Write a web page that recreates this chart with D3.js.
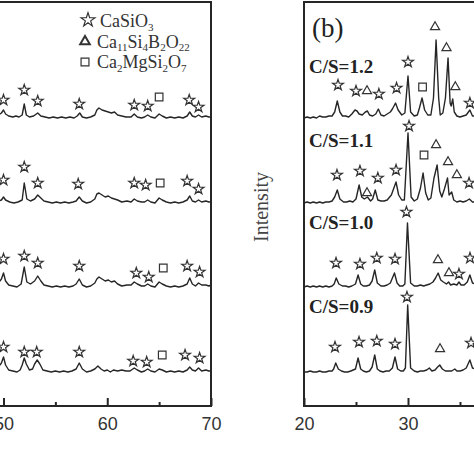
<!DOCTYPE html>
<html>
<head>
<meta charset="utf-8">
<script src="https://cdn.jsdelivr.net/npm/d3@7"></script>
<style>
body { margin: 0; background: #fff; }
svg { display: block; }
</style>
</head>
<body>
<div id="chart"></div>
<script>
// two XRD panels, (a) is cut on the left, (b) is cut on the right
var ratios = ["C/S=1.2", "C/S=1.1", "C/S=1.0", "C/S=0.9"];
var offsets = [288, 203, 119, 34];
var ratioLevels = [333, 259, 177, 93];

var ticksMajorA = [50, 60, 70];
var ticksMinorA = [45, 55, 65];
var ticksMajorB = [20, 30];
var ticksMinorB = [25, 35];

// panel (a) traces, [2theta, intensity above baseline]
var traceA12 = [[49.5,3],[49.8,5],[50.0,8],[50.2,4],[50.5,2],[50.9,1],[51.2,2],[51.5,1],[51.8,3],[52.0,14],[52.2,3],[52.5,1],[52.9,2],[53.3,5],[53.6,2],[54.0,1],[54.4,0],[54.8,1],[55.2,0],[55.6,1],[56.0,0],[56.4,1],[56.8,0],[57.1,2],[57.35,5],[57.6,1],[58.0,0],[58.4,1],[58.8,3],[59.0,8],[59.2,10],[59.5,8],[59.8,7],[60.1,6],[60.4,5],[60.7,6],[61.0,3],[61.4,2],[61.8,1],[62.3,1],[62.6,4],[62.9,1],[63.3,0],[63.6,1],[63.9,3],[64.2,1],[64.6,0],[65.0,4],[65.3,2],[65.7,0],[66.1,1],[66.5,0],[66.9,1],[67.3,0],[67.7,2],[67.95,6],[68.2,2],[68.5,1],[68.8,3],[69.1,1],[69.5,2],[69.8,1],[70,1]];
var traceA11 = [[49.5,2],[49.8,3],[50.0,6],[50.2,3],[50.6,1],[51.0,0],[51.4,1],[51.8,3],[52.0,20],[52.25,4],[52.6,2],[53.0,4],[53.3,8],[53.6,5],[53.9,2],[54.3,1],[54.7,0],[55.1,1],[55.5,0],[55.9,1],[56.3,0],[56.7,1],[57.0,2],[57.3,6],[57.6,2],[58.0,0],[58.4,1],[58.8,4],[59.0,9],[59.2,10],[59.5,8],[59.8,6],[60.1,7],[60.4,5],[60.7,4],[61.0,3],[61.4,1],[61.9,2],[62.3,1],[62.6,4],[62.9,2],[63.3,1],[63.6,1],[63.9,3],[64.2,1],[64.6,0],[65.0,5],[65.3,3],[65.7,1],[66.1,0],[66.5,1],[66.9,0],[67.3,1],[67.7,3],[67.95,7],[68.2,2],[68.5,1],[68.8,3],[69.1,1],[69.5,2],[69.8,1],[70,1]];
var traceA10 = [[49.5,4],[49.8,8],[50.0,14],[50.2,6],[50.5,2],[50.9,1],[51.3,0],[51.7,3],[52.0,20],[52.25,5],[52.6,3],[53.0,6],[53.3,11],[53.6,6],[53.9,2],[54.3,1],[54.7,0],[55.1,1],[55.5,0],[55.9,1],[56.3,0],[56.7,1],[57.0,3],[57.3,8],[57.6,2],[58.0,0],[58.4,1],[58.8,4],[59.0,8],[59.2,10],[59.5,8],[59.8,6],[60.1,7],[60.4,5],[60.7,6],[61.0,3],[61.4,1],[61.9,2],[62.3,2],[62.6,5],[62.9,3],[63.3,1],[63.6,1],[63.9,3],[64.2,1],[64.6,0],[65.0,5],[65.3,3],[65.7,1],[66.1,0],[66.5,1],[66.9,0],[67.3,1],[67.7,3],[67.95,9],[68.2,3],[68.5,1],[68.8,4],[69.1,2],[69.5,2],[69.8,1],[70,2]];
var traceA09 = [[49.5,5],[49.8,9],[50.0,15],[50.2,7],[50.5,2],[50.9,1],[51.3,0],[51.6,2],[51.8,7],[52.0,14],[52.2,8],[52.5,2],[52.8,3],[53.0,8],[53.25,12],[53.5,8],[53.8,2],[54.2,1],[54.6,0],[55.0,1],[55.4,0],[55.8,1],[56.2,0],[56.6,1],[57.0,3],[57.3,9],[57.6,3],[58.0,0],[58.4,1],[58.8,3],[59.1,6],[59.4,3],[59.7,1],[60.0,2],[60.3,0],[60.6,2],[61.0,1],[61.4,2],[61.8,1],[62.2,1],[62.6,4],[62.9,2],[63.3,0],[63.6,1],[63.9,3],[64.2,1],[64.6,0],[65.0,3],[65.3,2],[65.7,0],[66.1,1],[66.5,0],[66.9,1],[67.3,0],[67.7,2],[67.95,5],[68.2,2],[68.5,1],[68.8,4],[69.1,1],[69.5,2],[69.8,1],[70,1]];

// panel (b) traces
var traceB12 = [[20,0],[20.3,1],[20.6,0],[20.9,1],[21.2,0],[21.5,2],[21.8,1],[22.1,1],[22.4,2],[22.7,2],[22.95,6],[23.2,17],[23.45,6],[23.7,2],[24.0,2],[24.3,1],[24.6,4],[24.9,8],[25.1,7],[25.3,4],[25.6,3],[25.9,6],[26.1,7],[26.3,3],[26.6,2],[26.9,4],[27.15,9],[27.4,3],[27.7,2],[28.0,4],[28.3,6],[28.5,9],[28.8,15],[29.05,8],[29.4,3],[29.7,5],[30.0,42],[30.25,6],[30.6,2],[30.9,3],[31.1,10],[31.35,20],[31.6,8],[31.9,3],[32.2,3],[32.45,20],[32.7,78],[32.95,20],[33.1,3],[33.35,5],[33.6,20],[33.85,60],[34.05,15],[34.15,12],[34.3,19],[34.45,6],[34.7,2],[35.0,1],[35.3,2],[35.6,3],[35.95,8],[36.2,2],[36.5,2]];
var traceB11 = [[20,0],[20.3,1],[20.6,0],[20.9,1],[21.2,0],[21.5,1],[21.8,0],[22.1,1],[22.4,1],[22.7,2],[22.95,6],[23.2,13],[23.45,4],[23.8,1],[24.1,1],[24.4,2],[24.7,1],[25.0,4],[25.3,18],[25.55,6],[25.8,4],[26.1,6],[26.4,2],[26.6,4],[26.85,13],[27.1,3],[27.4,2],[27.7,2],[28.0,3],[28.4,8],[28.85,21],[29.1,8],[29.4,3],[29.65,3],[30.0,70],[30.3,6],[30.6,2],[30.9,4],[31.2,15],[31.45,30],[31.7,10],[31.95,3],[32.2,5],[32.5,25],[32.8,38],[33.05,12],[33.25,6],[33.5,14],[33.8,25],[33.95,8],[34.2,11],[34.4,3],[34.7,1],[35.0,2],[35.3,1],[35.6,2],[35.9,4],[36.2,1],[36.5,1]];
var traceB10 = [[20,0],[20.3,1],[20.6,0],[20.9,1],[21.2,0],[21.5,1],[21.8,0],[22.1,1],[22.4,0],[22.7,1],[22.9,3],[23.1,9],[23.35,3],[23.7,1],[24.0,1],[24.3,0],[24.6,1],[24.95,3],[25.2,12],[25.45,3],[25.7,1],[26.0,1],[26.3,2],[26.55,6],[26.8,17],[27.05,4],[27.4,1],[27.7,1],[28.0,2],[28.3,4],[28.7,14],[28.95,4],[29.2,1],[29.5,1],[29.7,3],[29.95,64],[30.25,4],[30.6,1],[30.9,1],[31.2,2],[31.5,1],[31.8,2],[32.1,3],[32.4,5],[32.65,9],[32.9,14],[33.15,7],[33.4,5],[33.7,3],[33.9,5],[34.1,2],[34.4,3],[34.7,2],[34.9,5],[35.1,2],[35.4,2],[35.7,5],[35.95,12],[36.2,4],[36.5,3]];
var traceB09 = [[20,0],[20.3,0],[20.6,1],[20.9,0],[21.2,0],[21.5,1],[21.8,0],[22.1,0],[22.4,1],[22.7,1],[22.85,3],[23.05,9],[23.3,3],[23.6,1],[23.9,0],[24.2,0],[24.5,1],[24.95,3],[25.2,14],[25.45,3],[25.7,1],[26.0,0],[26.3,1],[26.55,5],[26.8,17],[27.05,3],[27.3,1],[27.6,0],[27.9,1],[28.2,1],[28.5,4],[28.75,15],[29.0,3],[29.3,1],[29.55,1],[29.75,4],[29.97,67],[30.25,4],[30.6,1],[30.9,0],[31.2,1],[31.5,1],[31.8,2],[32.05,4],[32.3,1],[32.6,2],[32.85,5],[33.05,7],[33.3,3],[33.6,1],[33.9,1],[34.2,1],[34.5,3],[34.7,1],[35.0,1],[35.3,2],[35.6,4],[35.95,12],[36.2,4],[36.5,3]];

var tracesA = [traceA12, traceA11, traceA10, traceA09];
var tracesB = [traceB12, traceB11, traceB10, traceB09];

// phase markers [2theta, level, kind]
var markersA = [
  [50.0,306,"star"],[52.0,316,"star"],[53.3,305,"star"],[57.3,302,"star"],[62.6,301,"star"],[63.9,300,"star"],[65.0,309,"square"],[67.9,306,"star"],[68.8,299,"star"],
  [50.0,226,"star"],[52.0,239,"star"],[53.3,223,"star"],[57.2,222,"star"],[62.6,223,"star"],[63.7,221,"star"],[65.1,223,"square"],[67.7,225,"star"],[68.8,217,"star"],
  [50.0,147,"star"],[52.0,150,"star"],[53.3,143,"star"],[57.3,140,"star"],[62.8,133,"star"],[64.0,129,"star"],[65.4,138,"square"],[67.7,140,"star"],[68.9,134,"star"],
  [50.0,59,"star"],[52.0,54,"star"],[53.2,54,"star"],[57.3,54,"star"],[62.5,45,"star"],[63.8,44,"star"],[65.3,51,"square"],[67.5,51,"star"],[68.9,48,"star"]
];
var markersB = [
  [23.27,321,"star"],[25.0,315,"star"],[26.06,315,"tri"],[27.2,312,"star"],[28.9,318,"star"],[30.0,344,"star"],[31.4,319,"square"],[32.6,379,"tri"],[33.7,358,"tri"],[34.55,319,"tri"],[35.95,303,"star"],
  [23.17,231,"star"],[25.38,235,"star"],[26.06,213,"tri"],[27.1,228,"star"],[28.85,236,"star"],[30.1,280,"star"],[31.54,251,"square"],[32.7,261,"tri"],[33.85,244,"tri"],[34.7,231,"tri"],[35.87,223,"star"],
  [23.08,143,"star"],[25.38,142,"star"],[27.0,148,"star"],[28.75,147,"star"],[29.85,194,"star"],[32.88,146,"tri"],[33.94,133,"tri"],[34.9,132,"star"],[35.96,148,"star"],
  [22.98,59,"star"],[25.29,64,"star"],[27.0,65,"star"],[28.75,62,"star"],[29.9,109,"star"],[33.08,57,"tri"],[36.06,63,"star"]
];

var legendNames = [
  [["CaSiO",""],["3","sub"]],
  [["Ca",""],["11","sub"],["Si",""],["4","sub"],["B",""],["2","sub"],["O",""],["22","sub"]],
  [["Ca",""],["2","sub"],["Mg",""],["Si",""],["2","sub"],["O",""],["7","sub"]]
];

function init() {
    var w = 474;
    var h = 474;
    var ink = "#262626";

    var svg = d3.select("#chart")
                .append("svg")
                .attr("width", w)
                .attr("height", h);

    var y = d3.scaleLinear().domain([0, 404]).range([406, 2]);
    var xA = d3.scaleLinear().domain([50, 70]).range([3.5, 211]);
    var xB = d3.scaleLinear().domain([20, 30]).range([304, 408]);

    var symbols = {
        star: d3.symbol(d3.symbolStar, 36),
        tri: d3.symbol(d3.symbolTriangle, 36),
        square: d3.symbol(d3.symbolSquare, 58)
    };

    function panel(x, traces, markers, frameL, frameR) {
        var g = svg.append("g");

        var line = function(off) {
            return d3.line()
                     .x(function(d) { return x(d[0]); })
                     .y(function(d) { return y(off + d[1]); });
        };

        g.selectAll("path.trace")
         .data(traces)
         .enter()
         .append("path")
         .attr("class", "trace")
         .attr("fill", "none")
         .attr("stroke", ink)
         .attr("stroke-width", 1.4)
         .attr("stroke-linejoin", "round")
         .attr("d", function(d, i) { return line(offsets[i])(d); });

        g.selectAll("path.mark")
         .data(markers)
         .enter()
         .append("path")
         .attr("class", "mark")
         .attr("transform", function(d) { return "translate(" + x(d[0]) + "," + y(d[1]) + ")"; })
         .attr("d", function(d) { return symbols[d[2]](); })
         .attr("fill", "#fff")
         .attr("stroke", "#333")
         .attr("stroke-width", 1.2);

        // frame
        g.append("rect")
         .attr("x", frameL)
         .attr("y", y(404))
         .attr("width", frameR - frameL)
         .attr("height", y(0) - y(404))
         .attr("fill", "none")
         .attr("stroke", ink)
         .attr("stroke-width", 2);
        return g;
    }

    panel(xA, tracesA, markersA, -30, xA(70));
    panel(xB, tracesB, markersB, xB(20), 520);

    function axes(x, major, minor) {
        var ax = svg.append("g")
                    .attr("transform", "translate(0," + y(0) + ")")
                    .call(d3.axisBottom(x).tickValues(major).tickSize(-8).tickPadding(11));
        svg.append("g")
           .attr("transform", "translate(0," + y(0) + ")")
           .call(d3.axisBottom(x).tickValues(minor).tickSize(-4).tickFormat(""))
           .select(".domain").remove();
        ax.select(".domain").remove();
        svg.selectAll(".tick line").attr("stroke", ink).attr("stroke-width", 2);
        ax.selectAll(".tick text")
          .attr("font-family", "'Liberation Sans', Arial, sans-serif")
          .attr("font-size", 18)
          .attr("fill", "#333");
    }
    axes(xA, ticksMajorA, ticksMinorA);
    axes(xB, ticksMajorB, ticksMinorB);

    // labels in (b)
    svg.append("text")
       .attr("x", 312)
       .attr("y", 37)
       .attr("font-family", "'Liberation Serif', 'Times New Roman', serif")
       .attr("font-size", 27)
       .attr("fill", "#222")
       .text("(b)");

    svg.selectAll("text.ratio")
       .data(ratios)
       .enter()
       .append("text")
       .attr("class", "ratio")
       .attr("x", 309)
       .attr("y", function(d, i) { return y(ratioLevels[i]); })
       .attr("font-family", "'Liberation Serif', 'Times New Roman', serif")
       .attr("font-weight", "bold")
       .attr("font-size", 19)
       .attr("fill", "#222")
       .text(function(d) { return d; });

    svg.append("text")
       .attr("transform", "translate(268,207) rotate(-90)")
       .attr("text-anchor", "middle")
       .attr("font-family", "'Liberation Serif', 'Times New Roman', serif")
       .attr("font-size", 20)
       .attr("fill", "#444")
       .text("Intensity");

    // legend in (a)
    var leg = svg.selectAll("g.leg")
                 .data(legendNames)
                 .enter()
                 .append("g")
                 .attr("class", "leg")
                 .attr("transform", function(d, i) { return "translate(0," + (i * 20.5) + ")"; });

    leg.append("path")
       .attr("transform", function(d, i) { return "translate(" + (i === 0 ? 88 : 85) + "," + (i === 0 ? 20 : 21) + ")"; })
       .attr("d", function(d, i) { return d3.symbol([d3.symbolStar, d3.symbolTriangle, d3.symbolSquare][i], [60, 40, 62][i])(); })
       .attr("fill", "#fff")
       .attr("stroke", "#333")
       .attr("stroke-width", function(d, i) { return i === 1 ? 2 : 1.2; });

    var txt = leg.append("text")
                 .attr("x", function(d, i) { return i === 0 ? 100 : 97; })
                 .attr("y", 27)
                 .attr("font-family", "'Liberation Serif', 'Times New Roman', serif")
                 .attr("font-size", 18)
                 .attr("fill", "#333");

    txt.selectAll("tspan")
       .data(function(d) { return d; })
       .enter()
       .append("tspan")
       .attr("font-size", function(d) { return d[1] === "sub" ? 11 : 18; })
       .attr("dy", function(d, i, n) {
           var prev = i > 0 ? d3.select(n[i - 1]).datum()[1] : "";
           if (d[1] === "sub" && prev !== "sub") return 3.5;
           if (d[1] !== "sub" && prev === "sub") return -3.5;
           return 0;
       })
       .text(function(d) { return d[0]; });
}
window.onload = init;
</script>
</body>
</html>
